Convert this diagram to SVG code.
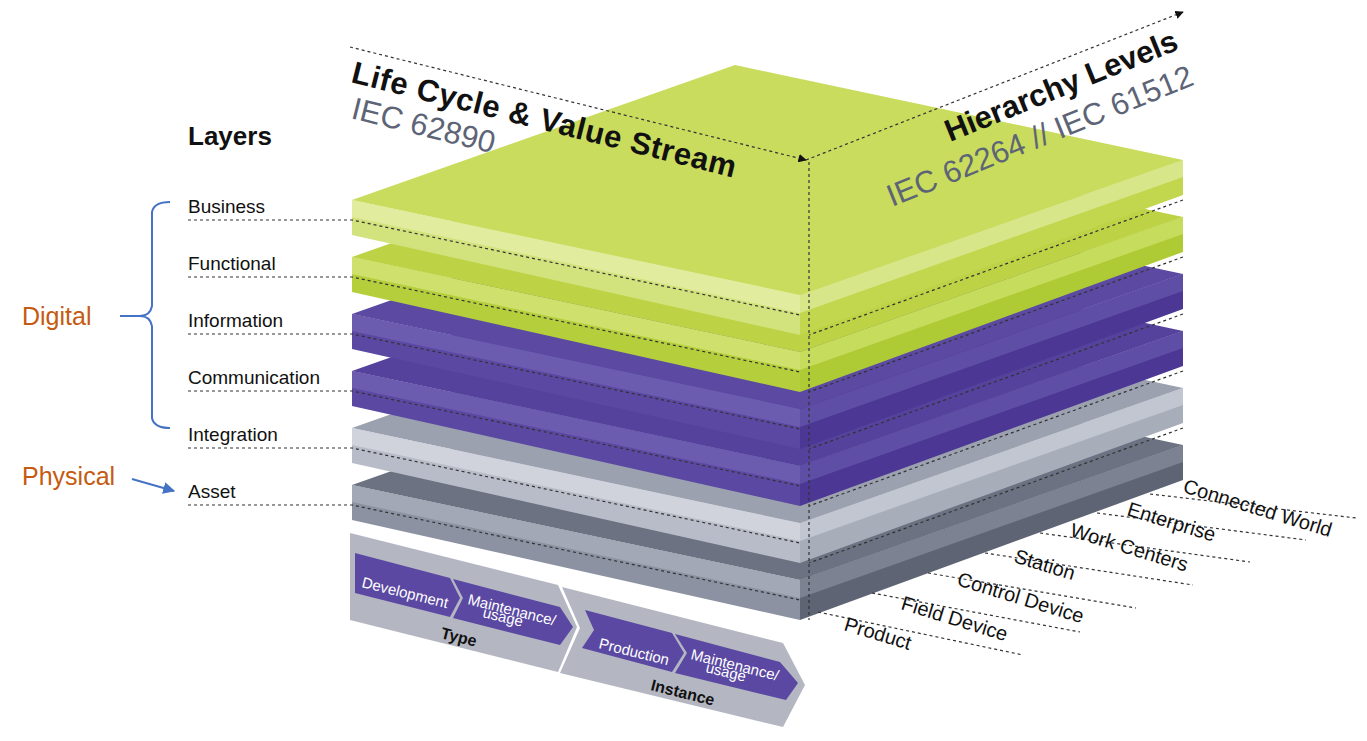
<svg xmlns="http://www.w3.org/2000/svg" width="1367" height="741" viewBox="0 0 1367 741">
<defs>
<style>
.lbl{font-family:"Liberation Sans",Arial,sans-serif;font-size:19px;fill:#111}
.dash{stroke:#333;stroke-width:1.2;stroke-dasharray:3 3;fill:none}
.hl{font-family:"Liberation Sans",Arial,sans-serif;font-size:20px;fill:#111}
.ax{font-family:"Liberation Sans",Arial,sans-serif;font-weight:bold;font-size:31px;fill:#111}
.iec{font-family:"Liberation Sans",Arial,sans-serif;font-size:31px;fill:#5d6476}
.wt{font-family:"Liberation Sans",Arial,sans-serif;font-size:15px;fill:#fff}
.bt{font-family:"Liberation Sans",Arial,sans-serif;font-weight:bold;font-size:16px;fill:#111}
</style>
<marker id="ah" viewBox="0 0 10 10" refX="9" refY="5" markerWidth="7" markerHeight="7" orient="auto"><path d="M0,0L10,5L0,10z" fill="#111"/></marker>
</defs>
<rect width="1367" height="741" fill="#fff"/>
<g id="slabs">
<g id="asset"><polygon points="352,485 735,350 1183,445 800,580" fill="#6c7282"/><polygon points="352,485 800,580 800,620 352,520" fill="#8c92a2"/><polygon points="352,485 800,580 800,598 352,502" fill="#a2a8b6"/><polygon points="800,580 1183,445 1183,480 800,620" fill="#5e6474"/><polygon points="800,580 1183,445 1183,462 800,598" fill="#7c8292"/></g>
<g id="integration"><polygon points="352,428 735,293 1183,388 800,523" fill="#9ca1b0"/><polygon points="352,428 800,523 800,563 352,463" fill="#b8bcc8"/><polygon points="352,428 800,523 800,541 352,445" fill="#d0d3dc"/><polygon points="800,523 1183,388 1183,423 800,563" fill="#a8adba"/><polygon points="800,523 1183,388 1183,405 800,541" fill="#c2c6d0"/></g>
<g id="communication"><polygon points="352,371 735,236 1183,331 800,466" fill="#55429c"/><polygon points="352,371 800,466 800,506 352,406" fill="#5a48a2"/><polygon points="352,371 800,466 800,484 352,388" fill="#6b5cb0"/><polygon points="800,466 1183,331 1183,366 800,506" fill="#4c3894"/><polygon points="800,466 1183,331 1183,348 800,484" fill="#5f4ea6"/></g>
<g id="information"><polygon points="352,314 735,179 1183,274 800,409" fill="#5b49a2"/><polygon points="352,314 800,409 800,449 352,349" fill="#5a48a2"/><polygon points="352,314 800,409 800,427 352,331" fill="#6b5cb0"/><polygon points="800,409 1183,274 1183,309 800,449" fill="#4c3894"/><polygon points="800,409 1183,274 1183,291 800,427" fill="#5f4ea6"/></g>
<g id="functional"><polygon points="352,257 735,122 1183,217 800,352" fill="#bdd345"/><polygon points="352,257 800,352 800,392 352,292" fill="#b4ce3c"/><polygon points="352,257 800,352 800,370 352,274" fill="#cfe06c"/><polygon points="800,352 1183,217 1183,252 800,392" fill="#aecb36"/><polygon points="800,352 1183,217 1183,234 800,370" fill="#c6dc5c"/></g>
<g id="business"><polygon points="352,200 735,65 1183,160 800,295" fill="#c9dc5e"/><polygon points="352,200 800,295 800,335 352,235" fill="#d2e27c"/><polygon points="352,200 800,295 800,313 352,217" fill="#e2ec9e"/><polygon points="800,295 1183,160 1183,195 800,335" fill="#c2d64e"/><polygon points="800,295 1183,160 1183,177 800,313" fill="#d8e68a"/></g>
</g>
<g id="connectors">
<path class="dash" d="M188,220H352L800,315"/>
<path class="dash" d="M188,277H352L800,372"/>
<path class="dash" d="M188,334H352L800,429"/>
<path class="dash" d="M188,391H352L800,486"/>
<path class="dash" d="M188,448H352L800,543"/>
<path class="dash" d="M188,505H352L800,600"/>
<path class="dash" d="M1183,200L809,335M1183,257L809,392M1183,314L809,449M1183,371L809,506M1183,428L809,563"/>
<path class="dash" d="M350,47L806,160" marker-end="url(#ah)"/>
<path class="dash" d="M806,160L1183,12" marker-end="url(#ah)"/>
<path class="dash" d="M809,162V620"/>
<path class="dash" d="M818,612L1023,655M872,593L1080,632M928,573L1136,608M985,553L1193,585M1040,533L1250,562M1097,513L1306,540M1150,494L1356,518"/>
<path d="M120,316H140Q150,316 152,306V212Q154,202 170,202M152,326V418Q154,428 170,428M140,316Q150,316 152,326" fill="none" stroke="#4472c4" stroke-width="2"/>
<path d="M132,479L174,491" stroke="#4472c4" stroke-width="2" marker-end="url(#ah2)"/>
</g>
<defs><marker id="ah2" viewBox="0 0 10 10" refX="9" refY="5" markerWidth="6" markerHeight="6" orient="auto"><path d="M0,0L10,5L0,10z" fill="#4472c4"/></marker></defs>
<g id="lifecycle">
<polygon points="350,533 558,585 577,627 558,672 350,620" fill="#b4b7c2"/>
<polygon points="562,587 783,643 805,685 783,727 560,673 580,628" fill="#b4b7c2"/>
<polygon points="355,553 450,578 460,598 450,617 355,593" fill="#5a48a2"/>
<polygon points="453,579 560,607 573,627 560,645 453,618 463,598" fill="#5a48a2"/>
<polygon points="585,610 672,633 684,653 672,672 582,648 594,630" fill="#5a48a2"/>
<polygon points="675,634 780,662 798,683 786,700 675,673 687,653" fill="#5a48a2"/>
<text class="wt" transform="translate(361,587) rotate(14)">Development</text>
<text class="wt" transform="translate(467,604) rotate(14)">Maintenance/</text>
<text class="wt" transform="translate(482,617) rotate(14)">usage</text>
<text class="bt" transform="translate(440,638) rotate(14)">Type</text>
<text class="wt" transform="translate(598,648) rotate(14)">Production</text>
<text class="wt" transform="translate(690,659) rotate(14)">Maintenance/</text>
<text class="wt" transform="translate(705,672) rotate(14)">usage</text>
<text class="bt" transform="translate(650,690) rotate(14)">Instance</text>
</g>
<g id="labels">
<text x="188" y="145" font-family="Liberation Sans,Arial,sans-serif" font-weight="bold" font-size="26" fill="#111">Layers</text>
<text class="lbl" x="188" y="213">Business</text>
<text class="lbl" x="188" y="270">Functional</text>
<text class="lbl" x="188" y="327">Information</text>
<text class="lbl" x="188" y="384">Communication</text>
<text class="lbl" x="188" y="441">Integration</text>
<text class="lbl" x="188" y="498">Asset</text>
<text x="22" y="325" font-family="Liberation Sans,Arial,sans-serif" font-size="25" fill="#c55a11">Digital</text>
<text x="22" y="485" font-family="Liberation Sans,Arial,sans-serif" font-size="25" fill="#c55a11">Physical</text>
<text class="ax" transform="translate(350,82) rotate(14)" textLength="395">Life Cycle &amp; Value Stream</text>
<text class="iec" transform="translate(350,118) rotate(14)">IEC 62890</text>
<text class="ax" transform="translate(950,142) rotate(-22)">Hierarchy Levels</text>
<text class="iec" transform="translate(892,207) rotate(-22)">IEC 62264 // IEC 61512</text>
<text class="hl" transform="translate(843,630) rotate(17)">Product</text>
<text class="hl" transform="translate(900,609) rotate(17)">Field Device</text>
<text class="hl" transform="translate(956,585) rotate(17)">Control Device</text>
<text class="hl" transform="translate(1013,562) rotate(17)">Station</text>
<text class="hl" transform="translate(1069,536) rotate(17)">Work Centers</text>
<text class="hl" transform="translate(1126,515) rotate(17)">Enterprise</text>
<text class="hl" transform="translate(1182,492) rotate(17)">Connected World</text>
</g>
</svg>
